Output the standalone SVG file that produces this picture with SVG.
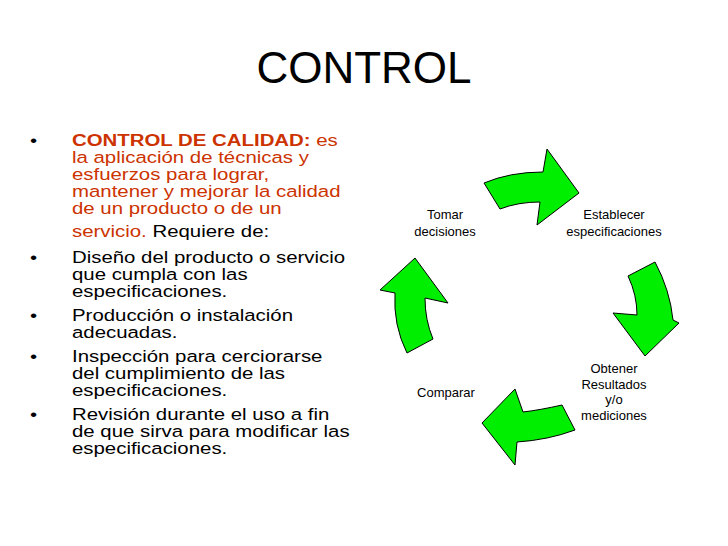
<svg xmlns="http://www.w3.org/2000/svg" width="728" height="546" viewBox="0 0 728 546">
<style>
.t{font-family:"Liberation Sans",Arial,sans-serif;font-size:17px;fill:#000}
.r{fill:#cc3300}
.s{font-family:"Liberation Sans",Arial,sans-serif;font-size:13px;fill:#000;text-anchor:middle}
.a{fill:#00ee00;stroke:#000;stroke-width:1}
</style>
<rect width="728" height="546" fill="#fff"/>
<text x="364" y="83" font-family="Liberation Sans,Arial,sans-serif" font-size="44" text-anchor="middle">CONTROL</text>
<g id="text" class="t" transform="matrix(1.2 0 0 1 -14.4 0)">
<text x="37" y="146">•</text>
<text x="72" y="146"><tspan class="r" font-weight="bold">CONTROL DE CALIDAD:</tspan><tspan class="r"> es</tspan></text>
<text x="72" y="163" class="t r">la aplicación de técnicas y</text>
<text x="72" y="180" class="t r">esfuerzos para lograr,</text>
<text x="72" y="197" class="t r">mantener y mejorar la calidad</text>
<text x="72" y="214" class="t r">de un producto o de un</text>
<text x="72" y="237" class="t"><tspan class="r">servicio.</tspan> Requiere de:</text>
<text x="37" y="263">•</text>
<text x="72" y="263">Diseño del producto o servicio</text>
<text x="72" y="280">que cumpla con las</text>
<text x="72" y="297">especificaciones.</text>
<text x="37" y="321">•</text>
<text x="72" y="321">Producción o instalación</text>
<text x="72" y="338">adecuadas.</text>
<text x="37" y="362">•</text>
<text x="72" y="362">Inspección para cerciorarse</text>
<text x="72" y="379">del cumplimiento de las</text>
<text x="72" y="396">especificaciones.</text>
<text x="37" y="420">•</text>
<text x="72" y="420">Revisión durante el uso a fin</text>
<text x="72" y="437">de que sirva para modificar las</text>
<text x="72" y="454">especificaciones.</text>
</g>
<g id="connectors">
<path class="a" d="M484,183 Q510,172 543,172 L547,149 L579,193 L537,225 L540,202 Q518,202 500,209 Z"/>
<path class="a" d="M628,276 L655,262 Q670,290 673,320 L679,323 L645,356 L613,313 L637,315 Q637,295 628,276 Z"/>
<path class="a" d="M562,405 Q540,410 523,412 L515,389 L482,423 L515,465 L517,442 Q548,440 575,430 Z"/>
<path class="a" d="M407,353 Q393,325 395,293 L380,290 L415,258 L448,303 L425,298 Q425,320 433,339 Z"/>
</g>
<g id="n1"><text class="s" x="445" y="219">Tomar</text><text class="s" x="445" y="236">decisiones</text></g>
<g id="n2"><text class="s" x="614" y="219">Establecer</text><text class="s" x="614" y="236">especificaciones</text></g>
<g id="n3"><text class="s" x="614" y="373">Obtener</text><text class="s" x="614" y="389">Resultados</text><text class="s" x="614" y="404">y/o</text><text class="s" x="614" y="420">mediciones</text></g>
<g id="n4"><text class="s" x="446" y="397">Comparar</text></g>
</svg>
